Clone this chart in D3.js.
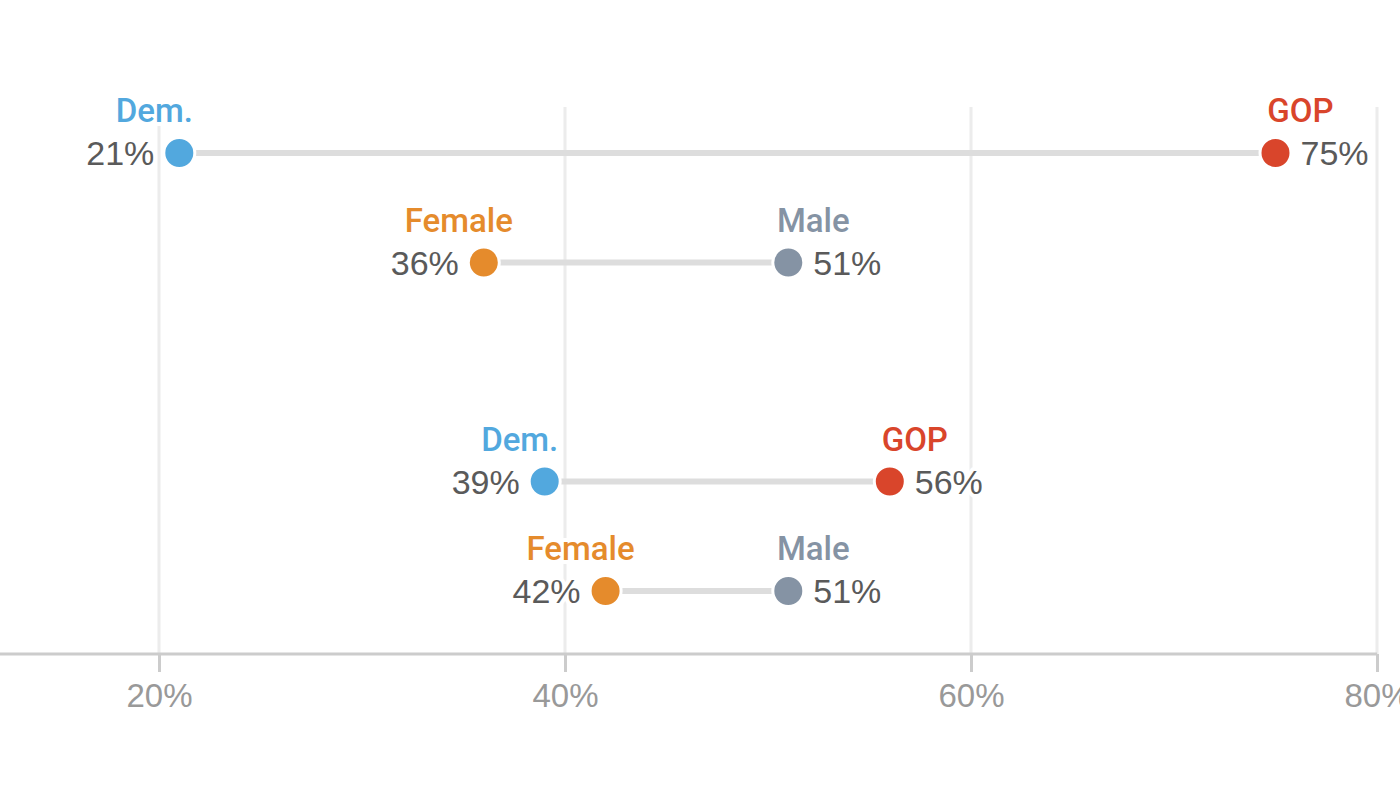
<!DOCTYPE html>
<html>
<head>
<meta charset="utf-8">
<script src="https://cdn.jsdelivr.net/npm/d3@7.9.0/dist/d3.min.js"></script>
<style>
  html, body { margin: 0; padding: 0; background: #fff; }
  svg { display: block; }
  .value { font-family: "Liberation Sans", Arial, sans-serif; font-size: 34px; fill: #5a5a5a; }
  .cat { font-family: Roboto, "Noto Sans", sans-serif; font-weight: 500; font-size: 33px; }
  .halo { stroke: #fff; stroke-width: 8px; stroke-linejoin: round; paint-order: stroke; }
  .tick-label { font-family: "Liberation Sans", Arial, sans-serif; font-size: 33px; fill: #999; }
</style>
</head>
<body>
<svg id="chart" width="1400" height="787"></svg>
<script>
// rows of the chart (a blank slot separates the two groups)
const rowKeys = ['row1', 'row2', 'gap', 'row3', 'row4'];
const rows = ['row1', 'row2', 'row3', 'row4'];
const leftLabels = ['Dem.', 'Female', 'Dem.', 'Female'];
const leftValues = [21, 36, 39, 42];
const rightLabels = ['GOP', 'Male', 'GOP', 'Male'];
const rightValues = [75, 51, 56, 51];
const tickValues = [20, 40, 60, 80];

const colors = {
  'Dem.': '#52a8de',
  'GOP': '#d9452b',
  'Female': '#e58b2c',
  'Male': '#8593a4'
};

const svg = d3.select('#chart');

const x = d3.scaleLinear().domain([20, 80]).range([159, 1377]);
const y = d3.scalePoint().domain(rowKeys).range([153, 591]);
const axisY = 654;
const gridTop = 107;

// gridlines
svg.append('g')
  .selectAll('line')
  .data(tickValues)
  .join('line')
  .attr('x1', d => x(d))
  .attr('x2', d => x(d))
  .attr('y1', gridTop)
  .attr('y2', axisY)
  .attr('stroke', '#ececec')
  .attr('stroke-width', 3);

// axis
const axis = d3.axisBottom(x)
  .tickValues(tickValues)
  .tickSize(18)
  .tickPadding(0)
  .tickFormat(d => d + '%');

const axisG = svg.append('g')
  .attr('transform', `translate(0,${axisY})`)
  .call(axis);

axisG.select('.domain').remove();
axisG.append('line')
  .attr('x1', 0)
  .attr('x2', x(80))
  .attr('stroke', '#cccccc')
  .attr('stroke-width', 3);
axisG.selectAll('.tick line')
  .attr('stroke', '#cccccc')
  .attr('stroke-width', 3);
axisG.selectAll('.tick text')
  .attr('class', 'tick-label')
  .attr('fill', null)
  .attr('font-size', null)
  .attr('font-family', null)
  .attr('dy', null)
  .attr('y', 53);

const data = rows.map((r, i) => ({
  row: r,
  left: { label: leftLabels[i], value: leftValues[i] },
  right: { label: rightLabels[i], value: rightValues[i] }
}));

const g = svg.append('g');

// connecting lines
g.selectAll('line.connector')
  .data(data)
  .join('line')
  .attr('class', 'connector')
  .attr('x1', d => x(d.left.value))
  .attr('x2', d => x(d.right.value))
  .attr('y1', d => y(d.row))
  .attr('y2', d => y(d.row))
  .attr('stroke', '#dddddd')
  .attr('stroke-width', 6);

const points = data.flatMap(d => [
  { row: d.row, side: 'left', ...d.left },
  { row: d.row, side: 'right', ...d.right }
]);

const offset = 25;

// dots
g.selectAll('circle')
  .data(points)
  .join('circle')
  .attr('cx', d => x(d.value))
  .attr('cy', d => y(d.row))
  .attr('r', 15.5)
  .attr('fill', d => colors[d.label])
  .attr('stroke', '#fff')
  .attr('stroke-width', 3);

// value labels
g.selectAll('text.value')
  .data(points)
  .join('text')
  .attr('class', 'value halo')
  .attr('x', d => x(d.value) + (d.side === 'left' ? -offset : offset))
  .attr('y', d => y(d.row) + 12)
  .attr('text-anchor', d => d.side === 'left' ? 'end' : 'start')
  .text(d => d.value + '%');

// category labels
g.selectAll('text.cat')
  .data(points)
  .join('text')
  .attr('class', 'cat halo')
  .attr('x', d => x(d.value) + (d.side === 'left' ? -offset : offset))
  .attr('y', d => y(d.row) - 31)
  .attr('text-anchor', 'middle')
  .attr('fill', d => colors[d.label])
  .text(d => d.label);
</script>
</body>
</html>
